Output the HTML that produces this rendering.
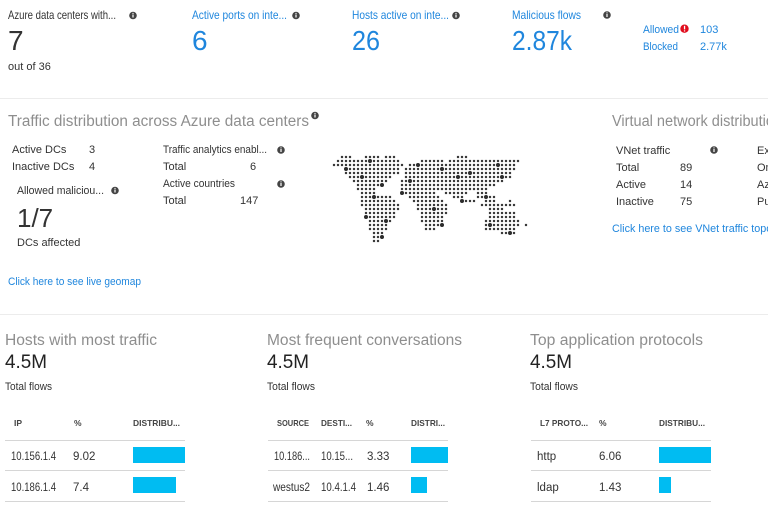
<!DOCTYPE html>
<html><head><meta charset="utf-8">
<style>
html,body{margin:0;padding:0;background:#fff;width:768px;height:505px;overflow:hidden}
svg{display:block;font-family:"Liberation Sans",Arial,sans-serif}
.t{font-size:12px;fill:#333}
.big{font-size:28px;fill:#333}
.bigb{font-size:28px;fill:#1f86dd}
.ttl{font-size:15.5px;fill:#8e8e8e}
.s{font-size:11px;fill:#333}
.h{font-size:8.5px;font-weight:bold;fill:#444}
.v{font-size:11.5px;fill:#333}
text.b{fill:#1f86dd}
</style></head><body>
<svg width="768" height="505" viewBox="0 0 768 505" xmlns="http://www.w3.org/2000/svg">
<defs>
<pattern id="dots" patternUnits="userSpaceOnUse" width="4" height="4">
<rect x="0.9" y="0.9" width="2.2" height="2.2" fill="#3a3a3a"/>
</pattern>
<g id="info"><circle r="3.8" fill="#444"/><rect x="-0.6" y="-1" width="1.2" height="3" fill="#fff"/><rect x="-0.6" y="-2.6" width="1.2" height="1" fill="#fff"/></g>
</defs>

<!-- Top KPIs -->
<text x="8" y="19" class="t" textLength="108" lengthAdjust="spacingAndGlyphs">Azure data centers with...</text>
<use href="#info" x="133" y="15.5"/>
<text x="8" y="50" class="big">7</text>
<text x="8" y="70" class="s">out of 36</text>

<text x="192" y="19" class="t b" textLength="95" lengthAdjust="spacingAndGlyphs">Active ports on inte...</text>
<use href="#info" x="296" y="15.5"/>
<text x="192" y="50" class="bigb">6</text>

<text x="352" y="19" class="t b" textLength="97" lengthAdjust="spacingAndGlyphs">Hosts active on inte...</text>
<use href="#info" x="456" y="15.5"/>
<text x="352" y="50" class="bigb" textLength="28" lengthAdjust="spacingAndGlyphs">26</text>

<text x="512" y="19" class="t b" textLength="69" lengthAdjust="spacingAndGlyphs">Malicious flows</text>
<use href="#info" x="607" y="15"/>
<text x="512" y="50" class="bigb" textLength="60" lengthAdjust="spacingAndGlyphs">2.87k</text>

<text x="643" y="33" class="s b" textLength="36" lengthAdjust="spacingAndGlyphs">Allowed</text>
<circle cx="684.5" cy="28.7" r="4.2" fill="#e00b1c"/>
<rect x="683.9" y="25.8" width="1.3" height="3.6" fill="#fff"/><rect x="683.9" y="30.3" width="1.3" height="1.2" fill="#fff"/>
<text x="700" y="33" class="s b">103</text>
<text x="643" y="50" class="s b" textLength="35" lengthAdjust="spacingAndGlyphs">Blocked</text>
<text x="700" y="50" class="s b">2.77k</text>

<rect x="0" y="98" width="768" height="1" fill="#ececec"/>

<!-- Traffic distribution -->
<text x="8" y="126" class="ttl" textLength="301" lengthAdjust="spacingAndGlyphs">Traffic distribution across Azure data centers</text>
<use href="#info" x="315" y="115.5"/>
<text x="12" y="153" class="s">Active DCs</text><text x="89" y="153" class="s">3</text>
<text x="12" y="170" class="s">Inactive DCs</text><text x="89" y="170" class="s">4</text>
<text x="17" y="194" class="s" textLength="87" lengthAdjust="spacingAndGlyphs">Allowed maliciou...</text>
<use href="#info" x="115" y="190.5"/>
<text x="17" y="227" font-size="26" fill="#333">1/7</text>
<text x="17" y="246" class="s">DCs affected</text>

<text x="163" y="153" class="s" textLength="104" lengthAdjust="spacingAndGlyphs">Traffic analytics enabl...</text>
<use href="#info" x="281" y="150"/>
<text x="163" y="170" class="s">Total</text><text x="250" y="170" class="s">6</text>
<text x="163" y="187" class="s" textLength="72" lengthAdjust="spacingAndGlyphs">Active countries</text>
<use href="#info" x="281" y="184"/>
<text x="163" y="204" class="s">Total</text><text x="240" y="204" class="s">147</text>

<text x="8" y="285" class="s b" textLength="133" lengthAdjust="spacingAndGlyphs">Click here to see live geomap</text>

<!-- Map -->
<g transform="translate(332,155)" fill="url(#dots)">
<rect x="8" y="0" width="12" height="4"/><rect x="32" y="0" width="16" height="4"/><rect x="52" y="0" width="12" height="4"/><rect x="124" y="0" width="12" height="4"/>
<rect x="4" y="4" width="64" height="4"/><rect x="88" y="4" width="24" height="4"/><rect x="116" y="4" width="72" height="4"/>
<rect x="0" y="8" width="72" height="4"/><rect x="76" y="8" width="108" height="4"/>
<rect x="12" y="12" width="56" height="4"/><rect x="72" y="12" width="112" height="4"/>
<rect x="12" y="16" width="56" height="4"/><rect x="72" y="16" width="108" height="4"/>
<rect x="16" y="20" width="44" height="4"/><rect x="72" y="20" width="108" height="4"/>
<rect x="20" y="24" width="36" height="4"/><rect x="68" y="24" width="104" height="4"/>
<rect x="24" y="28" width="28" height="4"/><rect x="68" y="28" width="96" height="4"/>
<rect x="24" y="32" width="20" height="4"/><rect x="68" y="32" width="88" height="4"/>
<rect x="28" y="36" width="16" height="4"/><rect x="68" y="36" width="36" height="4"/><rect x="112" y="36" width="24" height="4"/><rect x="144" y="36" width="12" height="4"/>
<rect x="28" y="40" width="32" height="4"/><rect x="76" y="40" width="32" height="4"/><rect x="120" y="40" width="12" height="4"/><rect x="144" y="40" width="20" height="4"/>
<rect x="28" y="44" width="36" height="4"/><rect x="80" y="44" width="32" height="4"/><rect x="132" y="44" width="12" height="4"/><rect x="152" y="44" width="12" height="4"/><rect x="176" y="44" width="4" height="4"/>
<rect x="28" y="48" width="40" height="4"/><rect x="84" y="48" width="32" height="4"/><rect x="148" y="48" width="36" height="4"/>
<rect x="32" y="52" width="36" height="4"/><rect x="84" y="52" width="32" height="4"/><rect x="156" y="52" width="16" height="4"/>
<rect x="32" y="56" width="32" height="4"/><rect x="88" y="56" width="28" height="4"/><rect x="156" y="56" width="28" height="4"/>
<rect x="32" y="60" width="32" height="4"/><rect x="88" y="60" width="24" height="4"/><rect x="156" y="60" width="28" height="4"/>
<rect x="36" y="64" width="24" height="4"/><rect x="88" y="64" width="24" height="4"/><rect x="152" y="64" width="36" height="4"/>
<rect x="36" y="68" width="20" height="4"/><rect x="92" y="68" width="16" height="4"/><rect x="152" y="68" width="36" height="4"/><rect x="192" y="68" width="4" height="4"/>
<rect x="36" y="72" width="20" height="4"/><rect x="92" y="72" width="12" height="4"/><rect x="152" y="72" width="32" height="4"/>
<rect x="40" y="76" width="12" height="4"/><rect x="168" y="76" width="16" height="4"/>
<rect x="40" y="80" width="12" height="4"/>
<rect x="40" y="84" width="8" height="4"/>
</g>
<g fill="#2a2a2a">
<circle cx="346" cy="169" r="2"/><circle cx="370" cy="161" r="2"/><circle cx="362" cy="177" r="2"/><circle cx="382" cy="185" r="2"/>
<circle cx="374" cy="197" r="2"/><circle cx="366" cy="217" r="2"/><circle cx="386" cy="221" r="2"/><circle cx="382" cy="237" r="2"/>
<circle cx="402" cy="193" r="2"/><circle cx="410" cy="181" r="2"/><circle cx="458" cy="177" r="2"/><circle cx="442" cy="169" r="2"/>
<circle cx="470" cy="173" r="2"/><circle cx="502" cy="177" r="2"/><circle cx="486" cy="197" r="2"/><circle cx="462" cy="201" r="2"/>
<circle cx="510" cy="233" r="2"/><circle cx="490" cy="225" r="2"/><circle cx="434" cy="209" r="2"/><circle cx="498" cy="165" r="2"/>
<circle cx="418" cy="165" r="2"/><circle cx="442" cy="225" r="2"/>
</g>

<!-- Virtual network -->
<text x="612" y="126" class="ttl" textLength="170" lengthAdjust="spacingAndGlyphs">Virtual network distribution</text>
<text x="616" y="154" class="s">VNet traffic</text>
<use href="#info" x="714" y="150"/>
<text x="757" y="154" class="s">Ex</text>
<text x="616" y="171" class="s">Total</text><text x="680" y="171" class="s">89</text><text x="757" y="171" class="s">On</text>
<text x="616" y="188" class="s">Active</text><text x="680" y="188" class="s">14</text><text x="757" y="188" class="s">Az</text>
<text x="616" y="205" class="s">Inactive</text><text x="680" y="205" class="s">75</text><text x="757" y="205" class="s">Pu</text>
<text x="612" y="232" class="s b" textLength="180" lengthAdjust="spacingAndGlyphs">Click here to see VNet traffic topology</text>

<rect x="0" y="314" width="768" height="1" fill="#ececec"/>

<!-- Hosts with most traffic -->
<text x="5" y="345" class="ttl" textLength="152" lengthAdjust="spacingAndGlyphs">Hosts with most traffic</text>
<text x="5" y="368" font-size="19" fill="#222" textLength="42" lengthAdjust="spacingAndGlyphs">4.5M</text>
<text x="5" y="390" class="s" textLength="47" lengthAdjust="spacingAndGlyphs">Total flows</text>
<text x="14" y="426" class="h">IP</text>
<text x="74" y="426" class="h">%</text>
<text x="133" y="426" class="h" textLength="47" lengthAdjust="spacingAndGlyphs">DISTRIBU...</text>
<rect x="5" y="440" width="180" height="1" fill="#d6d6d6"/>
<text x="11" y="460" class="v" textLength="45" lengthAdjust="spacingAndGlyphs">10.156.1.4</text>
<text x="73" y="460" class="v">9.02</text>
<rect x="133" y="447" width="52" height="16" fill="#00bcf2"/>
<rect x="5" y="470" width="180" height="1" fill="#d6d6d6"/>
<text x="11" y="491" class="v" textLength="45" lengthAdjust="spacingAndGlyphs">10.186.1.4</text>
<text x="73" y="491" class="v">7.4</text>
<rect x="133" y="477" width="43" height="16" fill="#00bcf2"/>
<rect x="5" y="501" width="180" height="1" fill="#d6d6d6"/>

<!-- Most frequent conversations -->
<text x="267" y="345" class="ttl" textLength="195" lengthAdjust="spacingAndGlyphs">Most frequent conversations</text>
<text x="267" y="368" font-size="19" fill="#222" textLength="42" lengthAdjust="spacingAndGlyphs">4.5M</text>
<text x="267" y="390" class="s" textLength="48" lengthAdjust="spacingAndGlyphs">Total flows</text>
<text x="277" y="426" class="h" textLength="32" lengthAdjust="spacingAndGlyphs">SOURCE</text>
<text x="321" y="426" class="h" textLength="31" lengthAdjust="spacingAndGlyphs">DESTI...</text>
<text x="366" y="426" class="h">%</text>
<text x="411" y="426" class="h" textLength="34" lengthAdjust="spacingAndGlyphs">DISTRI...</text>
<rect x="268" y="440" width="180" height="1" fill="#d6d6d6"/>
<text x="274" y="460" class="v" textLength="36" lengthAdjust="spacingAndGlyphs">10.186...</text>
<text x="321" y="460" class="v" textLength="32" lengthAdjust="spacingAndGlyphs">10.15...</text>
<text x="367" y="460" class="v">3.33</text>
<rect x="411" y="447" width="37" height="16" fill="#00bcf2"/>
<rect x="268" y="470" width="180" height="1" fill="#d6d6d6"/>
<text x="273" y="491" class="v" textLength="37" lengthAdjust="spacingAndGlyphs">westus2</text>
<text x="321" y="491" class="v" textLength="35" lengthAdjust="spacingAndGlyphs">10.4.1.4</text>
<text x="367" y="491" class="v">1.46</text>
<rect x="411" y="477" width="16" height="16" fill="#00bcf2"/>
<rect x="268" y="501" width="180" height="1" fill="#d6d6d6"/>

<!-- Top application protocols -->
<text x="530" y="345" class="ttl" textLength="173" lengthAdjust="spacingAndGlyphs">Top application protocols</text>
<text x="530" y="368" font-size="19" fill="#222" textLength="42" lengthAdjust="spacingAndGlyphs">4.5M</text>
<text x="530" y="390" class="s" textLength="48" lengthAdjust="spacingAndGlyphs">Total flows</text>
<text x="540" y="426" class="h" textLength="48" lengthAdjust="spacingAndGlyphs">L7 PROTO...</text>
<text x="599" y="426" class="h">%</text>
<text x="659" y="426" class="h" textLength="46" lengthAdjust="spacingAndGlyphs">DISTRIBU...</text>
<rect x="531" y="440" width="180" height="1" fill="#d6d6d6"/>
<text x="537" y="460" class="v">http</text>
<text x="599" y="460" class="v">6.06</text>
<rect x="659" y="447" width="52" height="16" fill="#00bcf2"/>
<rect x="531" y="470" width="180" height="1" fill="#d6d6d6"/>
<text x="537" y="491" class="v">ldap</text>
<text x="599" y="491" class="v">1.43</text>
<rect x="659" y="477" width="12" height="16" fill="#00bcf2"/>
<rect x="531" y="501" width="180" height="1" fill="#d6d6d6"/>
</svg>
</body></html>
